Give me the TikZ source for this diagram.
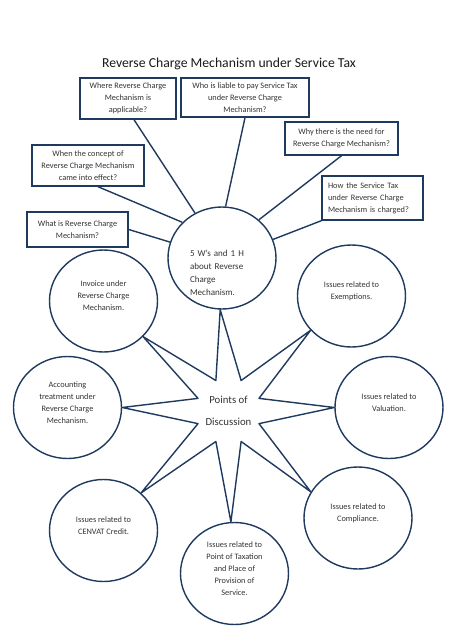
\documentclass[tikz,border=0pt]{standalone}
\usepackage{fontspec}
\setmainfont{Carlito}
\usepackage{xcolor}
\usetikzlibrary{shapes.geometric, calc}
\definecolor{navy}{HTML}{1F3A5F}

\begin{document}
\begin{tikzpicture}[
  x=0.03cm, y=-0.03cm,
  every node/.style={font=\fontsize{7.1}{10.2}\selectfont, text=black!80},
  qbox/.style={draw=navy, line width=1.2pt, align=center, inner sep=2pt},
  topic/.style={ellipse, draw=navy, line width=1.2pt, align=center,
                minimum width=3.24cm, minimum height=3.06cm, inner sep=0pt,
                text depth=8.5pt},
  link/.style={navy, line width=1.2pt, line join=round},
]
  \useasboundingbox (0,0) rectangle (453,640);

  % ── Title ─────────────────────────────────────────
  \node[font=\fontsize{11.7}{14}\selectfont, text=black!90] (title) at (229,64)
    {Reverse Charge Mechanism under Service Tax};

  % ── Question boxes (5 W's and 1 H) ────────────────
  \node[qbox, minimum width=2.88cm, minimum height=1.23cm] (where) at (128,98.5)
    {Where Reverse Charge\\Mechanism is\\applicable?};
  \node[qbox, minimum width=3.84cm, minimum height=1.17cm] (who) at (245,97.5)
    {Who is liable to pay Service Tax\\under Reverse Charge\\Mechanism?};
  \node[qbox, minimum width=3.39cm, minimum height=0.99cm] (why) at (341.5,138.5)
    {Why there is the need for\\Reverse Charge Mechanism?};
  \node[qbox, minimum width=3.36cm, minimum height=1.23cm] (when) at (88,165.5)
    {When the concept of\\Reverse Charge Mechanism\\came into effect?};
  \node[qbox, minimum width=3.03cm, minimum height=1.32cm, text width=2.67cm,
        align=left] (how) at (372.5,198)
    {How the Service Tax\\under Reverse Charge\\Mechanism is charged?};
  \node[qbox, minimum width=3.03cm, minimum height=1.05cm] (what) at (77.5,229.5)
    {What is Reverse Charge\\Mechanism?};

  % ── Hub of the questions ──────────────────────────
  \node[topic, text width=1.92cm, align=left,
        font=\fontsize{7.7}{11.1}\selectfont] (w5) at (222,258)
    {5 W’s and 1 H\\about Reverse\\Charge\\Mechanism.};

  \draw[link] ([xshift=0.18cm]where.south) -- (w5.121);
  \draw[link] (who.south)                  -- (w5.86);
  \draw[link] (why.south)                  -- (w5.46);
  \draw[link] ([xshift=0.3cm]when.south)   -- (w5.138);
  \draw[link] (how.south west)             -- (w5.20);
  \draw[link] (what.east)                  -- (w5.163);

  % ── Points of discussion ──────────────────────────
  \node[topic] (inv) at (103.5,301)   {Invoice under\\Reverse Charge\\Mechanism.};
  \node[topic] (exm) at (351.5,296)   {Issues related to\\Exemptions.};
  \node[topic] (acc) at (67.5,407.5)  {Accounting\\treatment under\\Reverse Charge\\Mechanism.};
  \node[topic] (val) at (389,407.5)   {Issues related to\\Valuation.};
  \node[topic] (cen) at (103.5,530.5) {Issues related to\\CENVAT Credit.};
  \node[topic] (pot) at (234.5,573.5) {Issues related to\\Point of Taxation\\and Place of\\Provision of\\Service.};
  \node[topic] (cmp) at (358,518)     {Issues related to\\Compliance.};

  \node[align=center, font=\fontsize{9.2}{18.8}\selectfont] (pts) at (228.5,411)
    {Points of\\Discussion};

  % ── Star joining the topics ───────────────────────
  \draw[link] (w5.268)
    -- ($(pts)+(67.5:0.99cm)$)   -- (exm.220)
    -- ($(pts)+(22.5:0.99cm)$)   -- (val.west)
    -- ($(pts)+(-22.5:0.99cm)$)  -- (cmp.151)
    -- ($(pts)+(-67.5:0.99cm)$)  -- (pot.94)
    -- ($(pts)+(-112.5:0.99cm)$) -- (cen.45)
    -- ($(pts)+(-157.5:0.99cm)$) -- (acc.east)
    -- ($(pts)+(157.5:0.99cm)$)  -- (inv.318)
    -- ($(pts)+(112.5:0.99cm)$)  -- cycle;

\end{tikzpicture}
\end{document}
